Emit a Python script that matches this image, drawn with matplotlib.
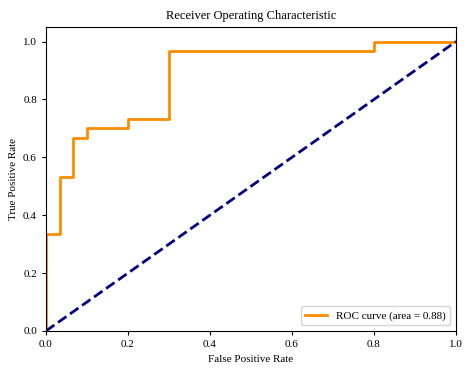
import matplotlib
matplotlib.use("Agg")
import matplotlib.pyplot as plt

fpr = [0.0, 0.0, 0.0333, 0.0333, 0.0667, 0.0667, 0.1, 0.1, 0.2, 0.2, 0.3, 0.3, 0.8, 0.8, 1.0]
tpr = [0.0, 0.3333, 0.3333, 0.5333, 0.5333, 0.6667, 0.6667, 0.7, 0.7, 0.7333, 0.7333, 0.9667, 0.9667, 1.0, 1.0]
roc_auc = 0.88
diag = [0.0, 1.0]

plt.rcParams['font.family'] = ['Liberation Serif', 'DejaVu Serif']

fig = plt.figure(figsize=(4.74, 3.71), dpi=100)
ax = fig.add_axes([0.097, 0.108, 0.865, 0.819])
ax.plot(fpr, tpr, color='darkorange', lw=2, label='ROC curve (area = %0.2f)' % roc_auc)
ax.plot(diag, diag, color='navy', lw=2, linestyle='--')
ax.set_xlim([0.0, 1.0])
ax.set_ylim([0.0, 1.05])
ax.set_xlabel('False Positive Rate', fontsize=8)
ax.set_ylabel('True Positive Rate', fontsize=8)
ax.set_title('Receiver Operating Characteristic', fontsize=9)
ax.tick_params(labelsize=8, length=3)
ax.legend(loc='lower right', fontsize=8)
fig.savefig('out.png', dpi=100)
